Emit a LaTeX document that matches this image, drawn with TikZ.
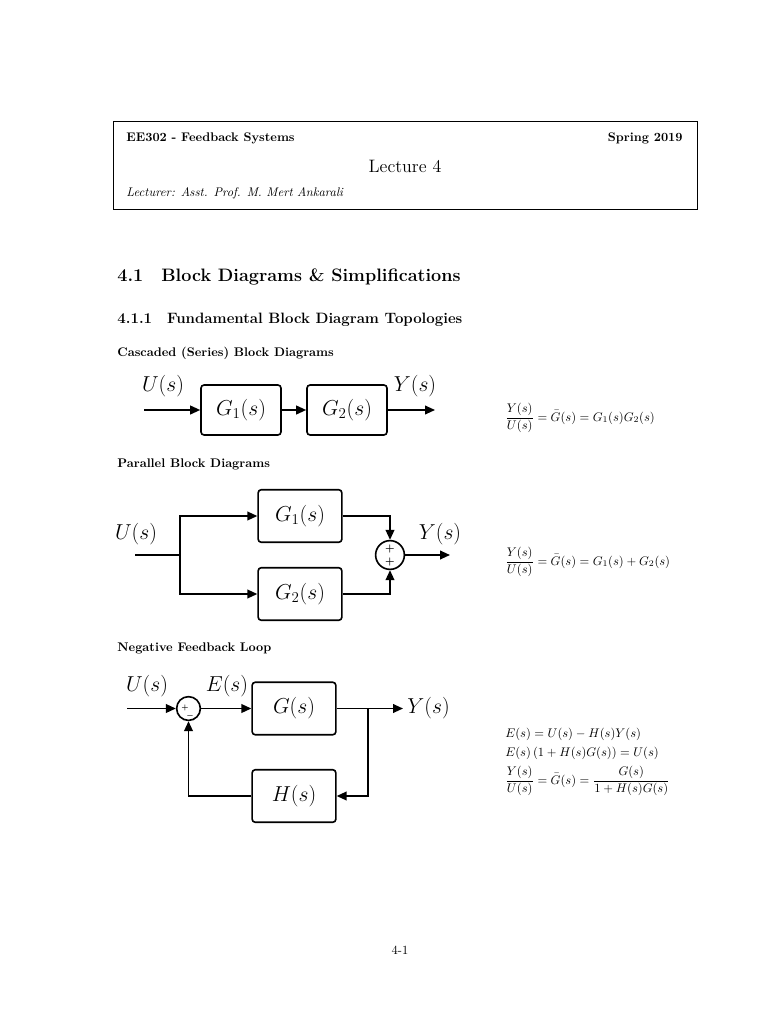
\documentclass[tikz,border=0pt]{standalone}
\usepackage{amsmath}
\usetikzlibrary{arrows.meta,positioning,calc}

\begin{document}
\begin{tikzpicture}[
    x=0.8pt, y=-0.8pt,
    block/.style={rectangle, draw, line width=1.3pt, rounded corners=2.5pt, minimum width=67pt, minimum height=42pt, font=\LARGE},
    sumnode/.style={circle, draw, line width=1.3pt, inner sep=0pt},
    signal/.style={font=\LARGE},
    sign/.style={inner sep=0pt, font=\footnotesize\boldmath},
    link/.style={line width=1.3pt, -{Triangle[length=8pt,width=7pt]}},
    wire/.style={line width=1.3pt},
    formula/.style={anchor=base west},
    header/.style={anchor=base west, font=\bfseries}
]
\useasboundingbox (0,0) rectangle (768,1024);

% Lecture header
\draw[line width=0.8pt] (113,122) rectangle (697,210);
\node[anchor=base west, font=\bfseries] (course) at (122,142) {EE302 - Feedback Systems};
\node[anchor=base east, font=\bfseries] (term) at (687,142) {Spring 2019};
\node[anchor=base, font=\Large] (lecture) at (405,173) {Lecture 4};
\node[anchor=base west, font=\itshape] (lecturer) at (122,197) {Lecturer: Asst. Prof. M. Mert Ankarali};

% Section titles
\node[header, font=\Large\bfseries] (sec) at (113,281) {4.1\hspace{1em}Block Diagrams \& Simplifications};
\node[header, font=\large\bfseries] (subsec) at (113,323) {4.1.1\hspace{1em}Fundamental Block Diagram Topologies};
\node[header] (series) at (113,356) {Cascaded (Series) Block Diagrams};
\node[header] (parallel) at (113,467) {Parallel Block Diagrams};
\node[header] (feedback) at (113,651) {Negative Feedback Loop};

% Cascaded blocks
\node[block, minimum width=64pt, minimum height=40pt] (g1) at (241,410) {$G_1(s)$};
\node[block, minimum width=64pt, minimum height=40pt] (g2) at (347,410) {$G_2(s)$};
\coordinate (uin1) at (144,410);
\coordinate (yout1) at (435,410);
\draw[link] (uin1) -- (g1);
\draw[link] (g1) -- (g2);
\draw[link] (g2) -- (yout1);
\node[signal] (ulab1) at (163,386) {$U(s)$};
\node[signal] (ylab1) at (415,386) {$Y(s)$};
\node[formula] (eq1) at (501,421) {$\dfrac{Y(s)}{U(s)} = \bar{G}(s) = G_1(s)G_2(s)$};

% Parallel blocks
\node[block] (g1p) at (300,516) {$G_1(s)$};
\node[block] (g2p) at (300,594) {$G_2(s)$};
\node[sumnode, minimum size=23pt] (sum1) at (390,555) {};
\node[sign] (plus1) at ($(sum1.center)+(0,-6.5)$) {$+$};
\node[sign] (plus2) at ($(sum1.center)+(0,6.5)$) {$+$};
\coordinate (uin2) at (135,555);
\coordinate (split) at (180,555);
\coordinate (yout2) at (450,555);
\draw[wire] (uin2) -- (split);
\draw[link] (split) |- (g1p);
\draw[link] (split) |- (g2p);
\draw[link] (g1p) -| (sum1);
\draw[link] (g2p) -| (sum1);
\draw[link] (sum1) -- (yout2);
\node[signal] (ulab2) at (136,534) {$U(s)$};
\node[signal] (ylab2) at (440,534) {$Y(s)$};
\node[formula] (eq2) at (501,565) {$\dfrac{Y(s)}{U(s)} = \bar{G}(s) = G_1(s) + G_2(s)$};

% Negative feedback loop
\node[sumnode, minimum size=19pt] (sum2) at (188.5,708.5) {};
\node[sign, font=\tiny\boldmath] (plus3) at ($(sum2.center)+(-3.5,-1)$) {$+$};
\node[sign, font=\tiny\boldmath] (minus1) at ($(sum2.center)+(1.5,7)$) {$-$};
\node[block] (g) at (294,708.5) {$G(s)$};
\node[block] (h) at (294,796) {$H(s)$};
\coordinate (uin3) at (127,708.5);
\coordinate (yout3) at (403,708.5);
\coordinate (branch) at (368,708.5);
\draw[link] (uin3) -- (sum2);
\draw[link] (sum2) -- (g);
\draw[link] (g) -- (yout3);
\draw[link] (branch) |- (h);
\draw[link] (h) -| (sum2);
\node[signal] (ulab3) at (147,686) {$U(s)$};
\node[signal] (elab) at (227,686) {$E(s)$};
\node[signal, right=0pt of yout3] (ylab3) {$Y(s)$};
\node[formula] (eq3a) at (501,737) {$E(s) = U(s) - H(s)Y(s)$};
\node[formula] (eq3b) at (501,756) {$E(s)\left(1 + H(s)G(s)\right) = U(s)$};
\node[formula] (eq3c) at (501,784) {$\dfrac{Y(s)}{U(s)} = \bar{G}(s) = \dfrac{G(s)}{1 + H(s)G(s)}$};

% Page number
\node[anchor=base] (page) at (400,954) {4-1};

\end{tikzpicture}
\end{document}
